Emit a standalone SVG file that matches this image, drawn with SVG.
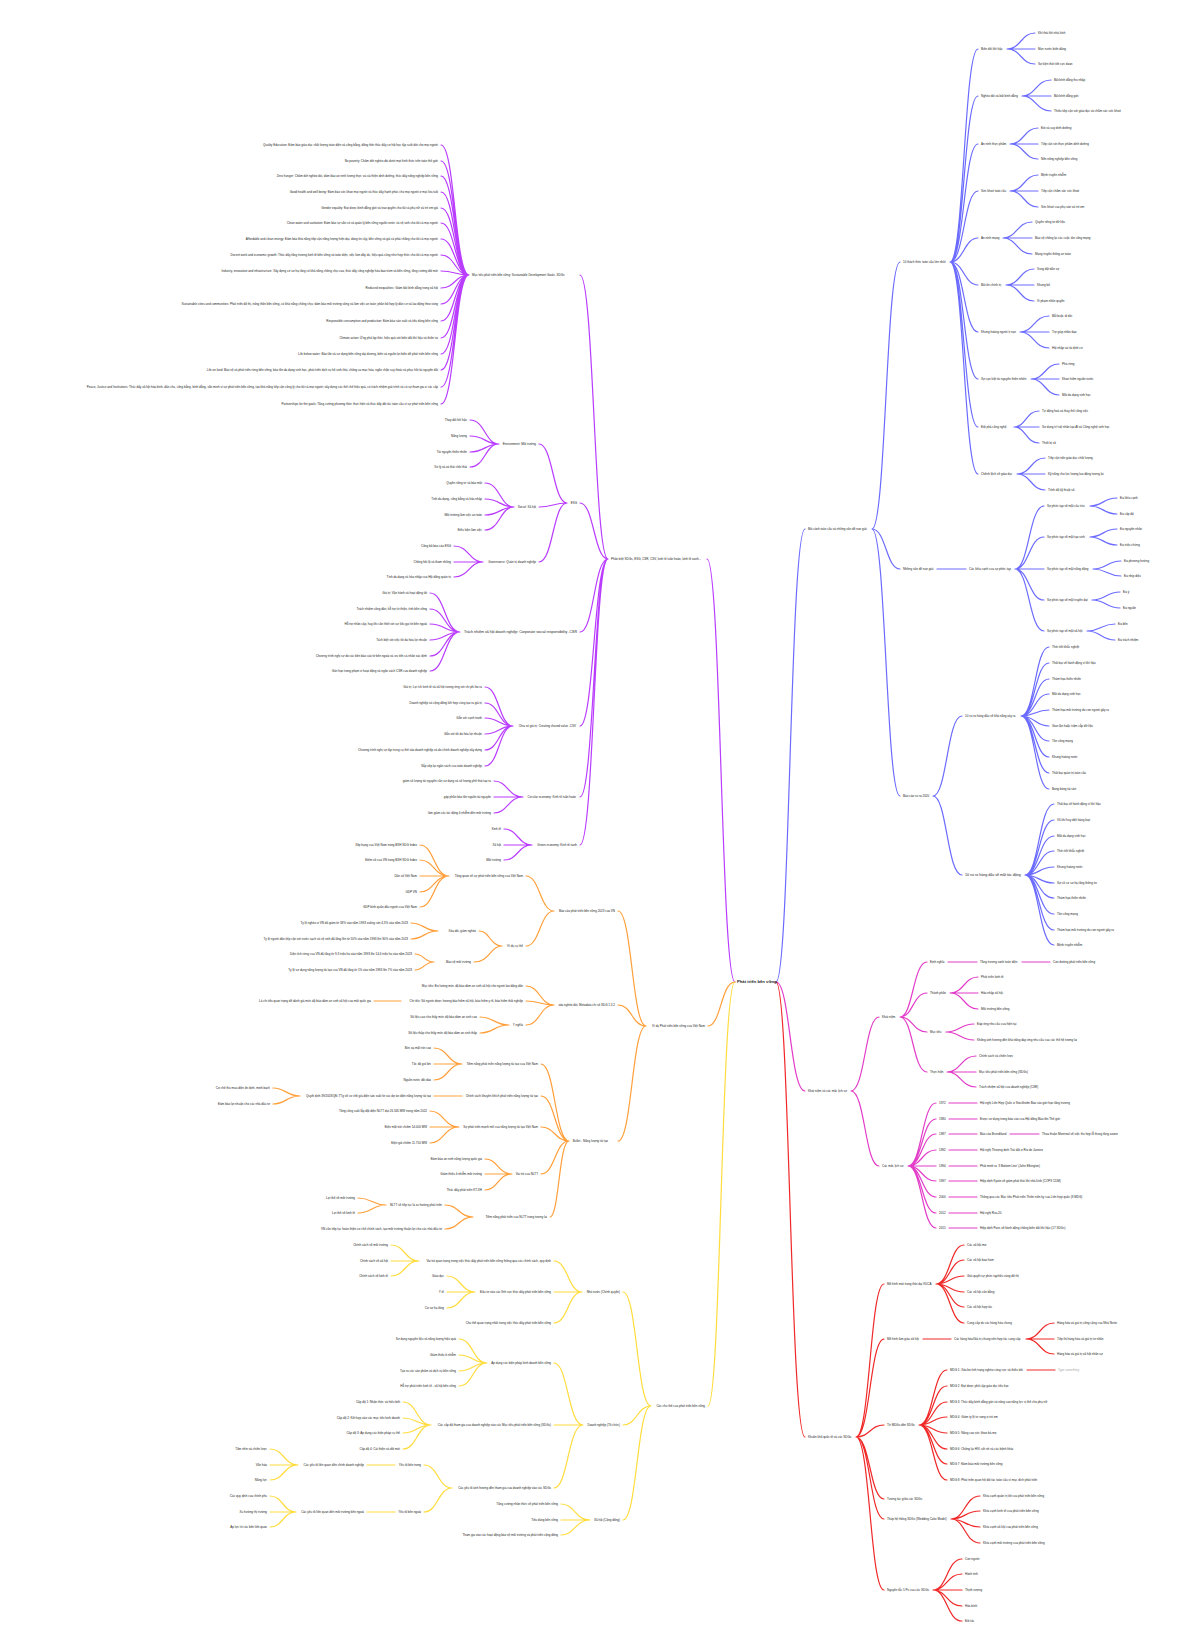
<svg xmlns="http://www.w3.org/2000/svg" width="1200" height="1629" viewBox="0 0 1200 1629">
<style>
text{font-family:"Liberation Sans",Arial,sans-serif;font-size:3px;fill:#222;dominant-baseline:middle}
.e{text-anchor:end}
.bd{font-weight:bold;font-size:4.2px}
.lg{font-size:3.6px}
.gr{fill:#aaa}
path{fill:none;stroke-width:1.2;stroke-linecap:round}
.b path{stroke:#6b6bff}.m path{stroke:#e23cc8}.r path{stroke:#f02828}.o path{stroke:#ff9f3a}.p path{stroke:#b93cff}.y path{stroke:#ffdc3c}
</style>
<rect width="1200" height="1629" fill="#fff"/>
<g id="connectors">
<g class="b">
<path d="M776 982C790 982 790 529 805 529M872 529C886 529 886 262 900 262M872 529C886 529 886 569 900 569M872 529C886 529 886 796 900 796"/>
<path d="M950 262C964 262 964 49 978 49M950 262C964 262 964 96 978 96M950 262C964 262 964 144 978 144M950 262C964 262 964 191 978 191M950 262C964 262 964 238 978 238M950 262C964 262 964 285 978 285M950 262C964 262 964 332 978 332M950 262C964 262 964 379 978 379M950 262C964 262 964 427 978 427M950 262C964 262 964 474 978 474"/>
<path d="M1007 49C1021 49 1021 33 1035 33M1007 49H1035M1007 49C1021 49 1021 64 1035 64"/>
<path d="M1022 96C1036 96 1036 80 1051 80M1022 96H1051M1022 96C1036 96 1036 111 1051 111"/>
<path d="M1010 144C1024 144 1024 128 1038 128M1010 144H1038M1010 144C1024 144 1024 159 1038 159"/>
<path d="M1010 191C1024 191 1024 175 1038 175M1010 191H1038M1010 191C1024 191 1024 207 1038 207"/>
<path d="M1003 238C1017 238 1017 222 1032 222M1003 238H1032M1003 238C1017 238 1017 254 1032 254"/>
<path d="M1006 285C1020 285 1020 269 1034 269M1006 285H1034M1006 285C1020 285 1020 301 1034 301"/>
<path d="M1020 332C1034 332 1034 316 1049 316M1020 332H1049M1020 332C1034 332 1034 348 1049 348"/>
<path d="M1031 379C1045 379 1045 364 1059 364M1031 379H1059M1031 379C1045 379 1045 395 1059 395"/>
<path d="M1014 427C1026 427 1026 411 1039 411M1014 427H1039M1014 427C1026 427 1026 443 1039 443"/>
<path d="M1017 474C1031 474 1031 458 1045 458M1017 474H1045M1017 474C1031 474 1031 490 1045 490"/>
<path d="M937 569H966M1015 569C1029 569 1029 506 1044 506M1015 569C1029 569 1029 537 1044 537M1015 569H1044M1015 569C1029 569 1029 600 1044 600M1015 569C1029 569 1029 631 1044 631"/>
<path d="M1090 506C1103 506 1103 498 1117 498M1090 506C1103 506 1103 514 1117 514M1090 537C1103 537 1103 529 1117 529M1090 537C1103 537 1103 545 1117 545M1093 569C1107 569 1107 561 1121 561M1093 569C1107 569 1107 576 1121 576M1092 600C1106 600 1106 592 1120 592M1092 600C1106 600 1106 608 1120 608M1087 631C1101 631 1101 624 1115 624M1087 631C1101 631 1101 640 1115 640"/>
<path d="M933 796C947 796 947 716 962 716M933 796C947 796 947 875 962 875"/>
<path d="M1021 716C1035 716 1035 647 1049 647M1021 716C1035 716 1035 663 1049 663M1021 716C1035 716 1035 679 1049 679M1021 716C1035 716 1035 694 1049 694M1021 716C1035 716 1035 710 1049 710M1021 716C1035 716 1035 726 1049 726M1021 716C1035 716 1035 741 1049 741M1021 716C1035 716 1035 757 1049 757M1021 716C1035 716 1035 773 1049 773M1021 716C1035 716 1035 789 1049 789"/>
<path d="M1025 875C1039 875 1039 804 1054 804M1025 875C1039 875 1039 820 1054 820M1025 875C1039 875 1039 836 1054 836M1025 875C1039 875 1039 851 1054 851M1025 875C1039 875 1039 867 1054 867M1025 875C1039 875 1039 883 1054 883M1025 875C1039 875 1039 898 1054 898M1025 875C1039 875 1039 914 1054 914M1025 875C1039 875 1039 930 1054 930M1025 875C1039 875 1039 945 1054 945"/>
</g>
<g class="m">
<path d="M776 982C790 982 790 1091 805 1091M851 1091C865 1091 865 1017 879 1017M851 1091C865 1091 865 1166 879 1166"/>
<path d="M900 1017C913 1017 913 962 927 962M900 1017C913 1017 913 993 927 993M900 1017C913 1017 913 1032 927 1032M900 1017C913 1017 913 1072 927 1072"/>
<path d="M948 962H977M1022 962H1050M950 993C964 993 964 977 978 977M950 993H978M950 993C964 993 964 1009 978 1009M946 1032C960 1032 960 1024 974 1024M946 1032C960 1032 960 1040 974 1040M947 1072C961 1072 961 1056 976 1056M947 1072H976M947 1072C961 1072 961 1087 976 1087"/>
<path d="M908 1166C922 1166 922 1103 936 1103M908 1166C922 1166 922 1119 936 1119M908 1166C922 1166 922 1134 936 1134M908 1166C922 1166 922 1150 936 1150M908 1166H936M908 1166C922 1166 922 1181 936 1181M908 1166C922 1166 922 1197 936 1197M908 1166C922 1166 922 1213 936 1213M908 1166C922 1166 922 1228 936 1228"/>
<path d="M949 1103H977M949 1119H977M949 1134H977M949 1150H977M949 1166H977M949 1181H977M949 1197H977M949 1213H977M949 1228H977M1010 1134H1039"/>
</g>
<g class="r">
<path d="M776 982C790 982 790 1437 805 1437"/>
<path d="M856 1437C870 1437 870 1284 884 1284M856 1437C870 1437 870 1339 884 1339M856 1437C870 1437 870 1425 884 1425M856 1437C870 1437 870 1499 884 1499M856 1437C870 1437 870 1519 884 1519M856 1437C870 1437 870 1590 884 1590"/>
<path d="M936 1284C950 1284 950 1245 964 1245M936 1284C950 1284 950 1260 964 1260M936 1284C950 1284 950 1276 964 1276M936 1284C950 1284 950 1292 964 1292M936 1284C950 1284 950 1307 964 1307M936 1284C950 1284 950 1323 964 1323"/>
<path d="M923 1339H951M1026 1339C1040 1339 1040 1323 1054 1323M1026 1339H1054M1026 1339C1040 1339 1040 1354 1054 1354"/>
<path d="M919 1425C933 1425 933 1370 947 1370M919 1425C933 1425 933 1386 947 1386M919 1425C933 1425 933 1402 947 1402M919 1425C933 1425 933 1417 947 1417M919 1425C933 1425 933 1433 947 1433M919 1425C933 1425 933 1449 947 1449M919 1425C933 1425 933 1464 947 1464M919 1425C933 1425 933 1480 947 1480M1027 1370H1055"/>
<path d="M951 1519C965 1519 965 1496 980 1496M951 1519C965 1519 965 1511 980 1511M951 1519C965 1519 965 1527 980 1527M951 1519C965 1519 965 1543 980 1543"/>
<path d="M933 1590C947 1590 947 1559 962 1559M933 1590C947 1590 947 1574 962 1574M933 1590H962M933 1590C947 1590 947 1606 962 1606M933 1590C947 1590 947 1621 962 1621"/>
</g>
<g class="p">
<path d="M735 982C721 982 721 559 707 559"/>
<path d="M608 559C594 559 594 275 580 275M608 559C594 559 594 503 580 503M608 559C594 559 594 632 580 632M608 559C594 559 594 726 580 726M608 559C594 559 594 797 580 797M608 559C594 559 594 845 580 845"/>
<path d="M469 275C455 275 455 145 441 145M469 275C455 275 455 161 441 161M469 275C455 275 455 176 441 176M469 275C455 275 455 192 441 192M469 275C455 275 455 208 441 208M469 275C455 275 455 223 441 223M469 275C455 275 455 239 441 239M469 275C455 275 455 255 441 255M469 275C455 275 455 271 441 271M469 275C455 275 455 288 441 288M469 275C455 275 455 304 441 304M469 275C455 275 455 321 441 321M469 275C455 275 455 338 441 338M469 275C455 275 455 354 441 354M469 275C455 275 455 370 441 370M469 275C455 275 455 387 441 387M469 275C455 275 455 404 441 404"/>
<path d="M567 503C553 503 553 444 539 444M567 503C553 503 553 507 539 507M567 503C553 503 553 562 539 562"/>
<path d="M499 444C485 444 485 420 470 420M499 444C485 444 485 436 470 436M499 444C485 444 485 452 470 452M499 444C485 444 485 467 470 467"/>
<path d="M514 507C500 507 500 483 485 483M514 507C500 507 500 499 485 499M514 507C500 507 500 515 485 515M514 507C500 507 500 530 485 530"/>
<path d="M483 562C469 562 469 546 454 546M483 562H454M483 562C469 562 469 577 454 577"/>
<path d="M460 632C445 632 445 593 430 593M460 632C445 632 445 609 430 609M460 632C445 632 445 624 430 624M460 632C445 632 445 640 430 640M460 632C445 632 445 656 430 656M460 632C445 632 445 671 430 671"/>
<path d="M513 726C499 726 499 687 485 687M513 726C499 726 499 703 485 703M513 726C499 726 499 718 485 718M513 726C499 726 499 734 485 734M513 726C499 726 499 750 485 750M513 726C499 726 499 766 485 766"/>
<path d="M523 797C508 797 508 781 494 781M523 797H494M523 797C508 797 508 813 494 813"/>
<path d="M532 845C518 845 518 829 504 829M532 845H504M532 845C518 845 518 860 504 860"/>
</g>
<g class="o">
<path d="M735 982C721 982 721 1026 708 1026"/>
<path d="M646 1026C632 1026 632 911 618 911M646 1026C632 1026 632 1005 618 1005M646 1026C632 1026 632 1141 618 1141"/>
<path d="M554 911C540 911 540 876 526 876M554 911C540 911 540 946 526 946"/>
<path d="M449 876C434 876 434 845 420 845M449 876C434 876 434 860 420 860M449 876H420M449 876C434 876 434 892 420 892M449 876C434 876 434 907 420 907"/>
<path d="M502 946C490 946 490 931 479 931M502 946C490 946 490 962 474 962"/>
<path d="M438 931C424 931 424 923 411 923M438 931C424 931 424 939 411 939M434 962C424 962 424 954 415 954M434 962C424 962 424 970 415 970"/>
<path d="M554 1005C540 1005 540 986 526 986M554 1005C540 1005 540 1001 526 1001M554 1005C540 1005 540 1025 526 1025M401 1001H374"/>
<path d="M509 1025C494 1025 494 1017 480 1017M509 1025C494 1025 494 1033 480 1033"/>
<path d="M569 1141C555 1141 555 1064 541 1064M569 1141C555 1141 555 1096 541 1096M569 1141C555 1141 555 1127 541 1127M569 1141C555 1141 555 1174 541 1174M569 1141C559 1141 559 1217 550 1217"/>
<path d="M462 1064C448 1064 448 1048 434 1048M462 1064H434M462 1064C448 1064 448 1080 434 1080"/>
<path d="M462 1096H434M300 1096C286 1096 286 1088 273 1088M300 1096C286 1096 286 1104 273 1104"/>
<path d="M459 1127C444 1127 444 1111 430 1111M459 1127H430M459 1127C444 1127 444 1143 430 1143"/>
<path d="M512 1174C498 1174 498 1159 485 1159M512 1174H485M512 1174C498 1174 498 1190 485 1190"/>
<path d="M473 1217C459 1217 459 1205 445 1205M473 1217C459 1217 459 1229 445 1229M386 1205C372 1205 372 1198 358 1198M386 1205C372 1205 372 1213 358 1213"/>
</g>
<g class="y">
<path d="M735 982C721 982 721 1406 708 1406"/>
<path d="M651 1406C637 1406 637 1292 623 1292M651 1406C637 1406 637 1425 623 1425M651 1406C637 1406 637 1520 623 1520"/>
<path d="M582 1292C568 1292 568 1261 554 1261M582 1292H554M582 1292C568 1292 568 1323 554 1323"/>
<path d="M419 1261C405 1261 405 1245 391 1245M419 1261H391M419 1261C405 1261 405 1276 391 1276"/>
<path d="M475 1292C461 1292 461 1276 447 1276M475 1292H447M475 1292C461 1292 461 1308 447 1308"/>
<path d="M583 1425C568 1425 568 1363 554 1363M583 1425H554M583 1425C568 1425 568 1488 554 1488"/>
<path d="M487 1363C473 1363 473 1339 459 1339M487 1363C473 1363 473 1355 459 1355M487 1363C473 1363 473 1371 459 1371M487 1363C473 1363 473 1386 459 1386"/>
<path d="M431 1425C417 1425 417 1402 403 1402M431 1425C417 1425 417 1418 403 1418M431 1425C417 1425 417 1433 403 1433M431 1425C417 1425 417 1449 403 1449"/>
<path d="M452 1488C438 1488 438 1465 424 1465M452 1488C438 1488 438 1512 424 1512M395 1465H367M395 1512H367"/>
<path d="M298 1465C284 1465 284 1449 270 1449M298 1465H270M298 1465C284 1465 284 1480 270 1480M296 1512C283 1512 283 1496 270 1496M296 1512H270M296 1512C283 1512 283 1527 270 1527"/>
<path d="M590 1520C575 1520 575 1504 561 1504M590 1520H561M590 1520C575 1520 575 1535 561 1535"/>
</g>
</g>
<g id="nodes">
<g id="root"><text class="bd" x="737" y="982">Phát triển bền vững</text></g>
<!-- blue -->
<g id="b0"><text x="808" y="529">Bối cảnh toàn cầu và những vấn đề nan giải</text></g>
<g id="b1"><text x="903" y="262">10 thách thức toàn cầu lớn nhất</text></g>
<g id="b1a"><text x="981" y="49">Biến đổi khí hậu</text></g>
<g id="b1a1"><text x="1038" y="33">Khí thải khí nhà kính</text></g>
<g id="b1a2"><text x="1038" y="49">Mực nước biển dâng</text></g>
<g id="b1a3"><text x="1038" y="64">Sự kiện thời tiết cực đoan</text></g>
<g id="b1b"><text x="981" y="96">Nghèo đói và bất bình đẳng</text></g>
<g id="b1b1"><text x="1054" y="80">Bất bình đẳng thu nhập</text></g>
<g id="b1b2"><text x="1054" y="96">Bất bình đẳng giới</text></g>
<g id="b1b3"><text x="1054" y="111">Thiếu tiếp cận với giáo dục và chăm sóc sức khoẻ</text></g>
<g id="b1c"><text x="981" y="144">An ninh thực phẩm</text></g>
<g id="b1c1"><text x="1041" y="128">Đói và suy dinh dưỡng</text></g>
<g id="b1c2"><text x="1041" y="144">Tiếp cận với thực phẩm dinh dưỡng</text></g>
<g id="b1c3"><text x="1041" y="159">Nền nông nghiệp bền vững</text></g>
<g id="b1d"><text x="981" y="191">Sức khoẻ toàn cầu</text></g>
<g id="b1d1"><text x="1041" y="175">Bệnh truyền nhiễm</text></g>
<g id="b1d2"><text x="1041" y="191">Tiếp cận chăm sóc sức khoẻ</text></g>
<g id="b1d3"><text x="1041" y="207">Sức khoẻ của phụ sản và trẻ em</text></g>
<g id="b1e"><text x="981" y="238">An ninh mạng</text></g>
<g id="b1e1"><text x="1035" y="222">Quyền riêng tư dữ liệu</text></g>
<g id="b1e2"><text x="1035" y="238">Bảo vệ chống lại các cuộc tấn công mạng</text></g>
<g id="b1e3"><text x="1035" y="254">Mạng truyền thông an toàn</text></g>
<g id="b1f"><text x="981" y="285">Bất ổn chính trị</text></g>
<g id="b1f1"><text x="1037" y="269">Xung đột dân sự</text></g>
<g id="b1f2"><text x="1037" y="285">Khủng bố</text></g>
<g id="b1f3"><text x="1037" y="301">Vi phạm nhân quyền</text></g>
<g id="b1g"><text x="981" y="332">Khủng hoảng người tị nạn</text></g>
<g id="b1g1"><text x="1052" y="316">Bắt buộc di dời</text></g>
<g id="b1g2"><text x="1052" y="332">Trợ giúp nhân đạo</text></g>
<g id="b1g3"><text x="1052" y="348">Hội nhập và tái định cư</text></g>
<g id="b1h"><text x="981" y="379">Sự cạn kiệt tài nguyên thiên nhiên</text></g>
<g id="b1h1"><text x="1062" y="364">Phá rừng</text></g>
<g id="b1h2"><text x="1062" y="379">Khan hiếm nguồn nước</text></g>
<g id="b1h3"><text x="1062" y="395">Mất đa dạng sinh học</text></g>
<g id="b1i"><text x="981" y="427">Đột phá công nghệ</text></g>
<g id="b1i1"><text x="1042" y="411">Tự động hoá và thay thế công việc</text></g>
<g id="b1i2"><text x="1042" y="427">Sử dụng trí tuệ nhân tạo AI và Công nghệ sinh học</text></g>
<g id="b1i3"><text x="1042" y="443">Thiết bị số</text></g>
<g id="b1j"><text x="981" y="474">Chênh lệch về giáo dục</text></g>
<g id="b1j1"><text x="1048" y="458">Tiếp cận nền giáo dục chất lượng</text></g>
<g id="b1j2"><text x="1048" y="474">Kỹ năng cho lực lượng lao động tương lai</text></g>
<g id="b1j3"><text x="1048" y="490">Trình độ kỹ thuật số</text></g>
<g id="b2"><text x="903" y="569">Những vấn đề nan giải</text></g>
<g id="b2a"><text x="969" y="569">Các khía cạnh của sự phức tạp</text></g>
<g id="b2a1"><text x="1047" y="506">Sự phức tạp về mặt cấu trúc</text></g>
<g id="b2a1a"><text x="1120" y="498">Đa khía cạnh</text></g>
<g id="b2a1b"><text x="1120" y="514">Đa cấp độ</text></g>
<g id="b2a2"><text x="1047" y="537">Sự phức tạp về mặt tạo sinh</text></g>
<g id="b2a2a"><text x="1120" y="529">Đa nguyên nhân</text></g>
<g id="b2a2b"><text x="1120" y="545">Đa triệu chứng</text></g>
<g id="b2a3"><text x="1047" y="569">Sự phức tạp về mặt năng động</text></g>
<g id="b2a3a"><text x="1124" y="561">Đa phương hướng</text></g>
<g id="b2a3b"><text x="1124" y="576">Đa nhịp điệu</text></g>
<g id="b2a4"><text x="1047" y="600">Sự phức tạp về mặt truyền đạt</text></g>
<g id="b2a4a"><text x="1123" y="592">Đa ý</text></g>
<g id="b2a4b"><text x="1123" y="608">Đa nguồn</text></g>
<g id="b2a5"><text x="1047" y="631">Sự phức tạp về mặt xã hội</text></g>
<g id="b2a5a"><text x="1118" y="624">Đa bên</text></g>
<g id="b2a5b"><text x="1118" y="640">Đa trách nhiệm</text></g>
<g id="b3"><text x="903" y="796">Báo cáo rủi ro 2020</text></g>
<g id="b3a"><text x="965" y="716">10 rủi ro hàng đầu về khả năng xảy ra</text></g>
<g id="b3a1"><text x="1052" y="647">Thời tiết khắc nghiệt</text></g>
<g id="b3a2"><text x="1052" y="663">Thất bại về hành động vì khí hậu</text></g>
<g id="b3a3"><text x="1052" y="679">Thảm họa thiên nhiên</text></g>
<g id="b3a4"><text x="1052" y="694">Mất đa dạng sinh học</text></g>
<g id="b3a5"><text x="1052" y="710">Thảm họa môi trường do con người gây ra</text></g>
<g id="b3a6"><text x="1052" y="726">Gian lận hoặc trộm cắp dữ liệu</text></g>
<g id="b3a7"><text x="1052" y="741">Tấn công mạng</text></g>
<g id="b3a8"><text x="1052" y="757">Khủng hoảng nước</text></g>
<g id="b3a9"><text x="1052" y="773">Thất bại quản trị toàn cầu</text></g>
<g id="b3a10"><text x="1052" y="789">Bong bóng tài sản</text></g>
<g id="b3b"><text class="lg" x="965" y="875">10 rủi ro hàng đầu về mặt tác động</text></g>
<g id="b3b1"><text x="1057" y="804">Thất bại về hành động vì khí hậu</text></g>
<g id="b3b2"><text x="1057" y="820">Vũ khí hủy diệt hàng loạt</text></g>
<g id="b3b3"><text x="1057" y="836">Mất đa dạng sinh học</text></g>
<g id="b3b4"><text x="1057" y="851">Thời tiết khắc nghiệt</text></g>
<g id="b3b5"><text x="1057" y="867">Khủng hoảng nước</text></g>
<g id="b3b6"><text x="1057" y="883">Sự cố cơ sở hạ tầng thông tin</text></g>
<g id="b3b7"><text x="1057" y="898">Thảm họa thiên nhiên</text></g>
<g id="b3b8"><text x="1057" y="914">Tấn công mạng</text></g>
<g id="b3b9"><text x="1057" y="930">Thảm họa môi trường do con người gây ra</text></g>
<g id="b3b10"><text x="1057" y="945">Bệnh truyền nhiễm</text></g>
<!-- magenta -->
<g id="m0"><text x="808" y="1091">Khái niệm và các mốc lịch sử</text></g>
<g id="m1"><text x="882" y="1017">Khái niệm</text></g>
<g id="m1a"><text x="930" y="962">Định nghĩa</text></g>
<g id="m1a1"><text x="980" y="962">Tăng trưởng xanh toàn diện</text></g>
<g id="m1a2"><text x="1053" y="962">Con đường phát triển bền vững</text></g>
<g id="m1b"><text x="930" y="993">Thành phần</text></g>
<g id="m1b1"><text x="981" y="977">Phát triển kinh tế</text></g>
<g id="m1b2"><text x="981" y="993">Hòa nhập xã hội</text></g>
<g id="m1b3"><text x="981" y="1009">Môi trường bền vững</text></g>
<g id="m1c"><text x="930" y="1032">Mục tiêu</text></g>
<g id="m1c1"><text x="977" y="1024">Đáp ứng nhu cầu của hiện tại</text></g>
<g id="m1c2"><text x="977" y="1040">Không ảnh hưởng đến khả năng đáp ứng nhu cầu của các thế hệ tương lai</text></g>
<g id="m1d"><text x="930" y="1072">Thực hiện</text></g>
<g id="m1d1"><text x="979" y="1056">Chính sách và chiến lược</text></g>
<g id="m1d2"><text x="979" y="1072">Mục tiêu phát triển bền vững (SDGs)</text></g>
<g id="m1d3"><text x="979" y="1087">Trách nhiệm xã hội của doanh nghiệp (CSR)</text></g>
<g id="m2"><text x="882" y="1166">Các mốc lịch sử</text></g>
<g id="m2a"><text x="939" y="1103">1972</text><text x="980" y="1103">Hội nghị Liên Hợp Quốc ở Stockholm Báo cáo giới hạn tăng trưởng</text></g>
<g id="m2b"><text x="939" y="1119">1980</text><text x="980" y="1119">Được sử dụng trong báo cáo của Hội đồng Bảo tồn Thế giới</text></g>
<g id="m2c"><text x="939" y="1134">1987</text><text x="980" y="1134">Báo cáo Brundtland</text></g>
<g id="m2c1"><text x="1042" y="1134">Thỏa thuận Montreal về việc thu hẹp lỗ thủng tầng ozone</text></g>
<g id="m2d"><text x="939" y="1150">1992</text><text x="980" y="1150">Hội nghị Thượng đỉnh Trái đất ở Rio de Janeiro</text></g>
<g id="m2e"><text x="939" y="1166">1994</text><text x="980" y="1166">Phát minh ra '3 Bottom Line' (John Elkington)</text></g>
<g id="m2f"><text x="939" y="1181">1997</text><text x="980" y="1181">Hiệp định Kyoto về giảm phát thải khí nhà kính (COP3 CDM)</text></g>
<g id="m2g"><text x="939" y="1197">2000</text><text x="980" y="1197">Thông qua các Mục tiêu Phát triển Thiên niên kỷ của Liên hợp quốc (8 MDG)</text></g>
<g id="m2h"><text x="939" y="1213">2012</text><text x="980" y="1213">Hội nghị Rio+20</text></g>
<g id="m2i"><text x="939" y="1228">2015</text><text x="980" y="1228">Hiệp định Paris về hành động chống biến đổi khí hậu (17 SDGs)</text></g>
<!-- red -->
<g id="r0"><text x="808" y="1437">Khuôn khổ quốc tế và các SDGs</text></g>
<g id="r1"><text x="887" y="1284">Mô hình mới trong thời đại VUCA</text></g>
<g id="r1a"><text x="967" y="1245">Các xã hội mở</text></g>
<g id="r1b"><text x="967" y="1260">Các xã hội bao hàm</text></g>
<g id="r1c"><text x="967" y="1276">Giải quyết sự phức tạp/tiểu vùng đô thị</text></g>
<g id="r1d"><text x="967" y="1292">Các xã hội cân bằng</text></g>
<g id="r1e"><text x="967" y="1307">Các xã hội hợp tác</text></g>
<g id="r1f"><text x="967" y="1323">Cung cấp đủ các hàng hóa chung</text></g>
<g id="r2"><text x="887" y="1339">Mô hình làm giàu xã hội</text></g>
<g id="r2a"><text x="954" y="1339">Các hàng hóa/Giá trị chung nên hợp tác cung cấp</text></g>
<g id="r2a1"><text x="1057" y="1323">Hàng hóa và giá trị công cộng của Nhà Nước</text></g>
<g id="r2a2"><text x="1057" y="1339">Tiếp thị hàng hóa và giá trị tư nhân</text></g>
<g id="r2a3"><text x="1057" y="1354">Hàng hóa và giá trị xã hội nhân sự</text></g>
<g id="r3"><text x="887" y="1425">Từ MDGs đến SDGs</text></g>
<g id="r3a"><text x="950" y="1370">MDG 1: Xóa bỏ tình trạng nghèo cùng cực và thiếu đói</text></g>
<g id="r3a1"><text class="gr" x="1058" y="1370">Type something</text></g>
<g id="r3b"><text x="950" y="1386">MDG 2: Đạt được phổ cập giáo dục tiểu học</text></g>
<g id="r3c"><text x="950" y="1402">MDG 3: Thúc đẩy bình đẳng giới và nâng cao năng lực vị thế cho phụ nữ</text></g>
<g id="r3d"><text x="950" y="1417">MDG 4: Giảm tỷ lệ tử vong ở trẻ em</text></g>
<g id="r3e"><text x="950" y="1433">MDG 5: Nâng cao sức khỏe bà mẹ</text></g>
<g id="r3f"><text x="950" y="1449">MDG 6: Chống lại HIV, sốt rét và các bệnh khác</text></g>
<g id="r3g"><text x="950" y="1464">MDG 7: Đảm bảo môi trường bền vững</text></g>
<g id="r3h"><text x="950" y="1480">MDG 8: Phát triển quan hệ đối tác toàn cầu vì mục đích phát triển</text></g>
<g id="r4"><text x="887" y="1499">Tương tác giữa các SDGs</text></g>
<g id="r5"><text x="887" y="1519">Tháp hệ thống SDGs (Wedding Cake Model)</text></g>
<g id="r5a"><text x="983" y="1496">Khía cạnh quản trị tốt của phát triển bền vững</text></g>
<g id="r5b"><text x="983" y="1511">Khía cạnh kinh tế của phát triển bền vững</text></g>
<g id="r5c"><text x="983" y="1527">Khía cạnh xã hội của phát triển bền vững</text></g>
<g id="r5d"><text x="983" y="1543">Khía cạnh môi trường của phát triển bền vững</text></g>
<g id="r6"><text x="887" y="1590">Nguyên tắc 5 Ps của các SDGs</text></g>
<g id="r6a"><text x="965" y="1559">Con người</text></g>
<g id="r6b"><text x="965" y="1574">Hành tinh</text></g>
<g id="r6c"><text x="965" y="1590">Thịnh vượng</text></g>
<g id="r6d"><text x="965" y="1606">Hòa bình</text></g>
<g id="r6e"><text x="965" y="1621">Đối tác</text></g>
<!-- purple -->
<g id="p0"><text x="611" y="559">Phân biệt SDGs, ESG, CSR, CSV, kinh tế tuần hoàn, kinh tế xanh...</text></g>
<g id="p1"><text x="472" y="275">Mục tiêu phát triển bền vững: Sustainable Development Goals -SDGs</text></g>
<g id="p1s1"><text class="e" x="438" y="145">Quality Education: Đảm bảo giáo dục chất lượng toàn diện và công bằng, đồng thời thúc đẩy cơ hội học tập suốt đời cho mọi người</text></g>
<g id="p1s2"><text class="e" x="438" y="161">No poverty: Chấm dứt nghèo đói dưới mọi hình thức trên toàn thế giới</text></g>
<g id="p1s3"><text class="e" x="438" y="176">Zero hunger: Chấm dứt nghèo đói, đảm bảo an ninh lương thực và cải thiện dinh dưỡng, thúc đẩy nông nghiệp bền vững</text></g>
<g id="p1s4"><text class="e" x="438" y="192">Good health and well being: Đảm bảo sức khỏe mọi người và thúc đẩy hạnh phúc cho mọi người ở mọi lứa tuổi</text></g>
<g id="p1s5"><text class="e" x="438" y="208">Gender equality: Đạt được bình đẳng giới và trao quyền cho tất cả phụ nữ và trẻ em gái</text></g>
<g id="p1s6"><text class="e" x="438" y="223">Clean water and sanitation: Đảm bảo sự sẵn có và quản lý bền vững nguồn nước và vệ sinh cho tất cả mọi người</text></g>
<g id="p1s7"><text class="e" x="438" y="239">Affordable and clean energy: Đảm bảo khả năng tiếp cận năng lượng hiện đại, đáng tin cậy, bền vững và giá cả phải chăng cho tất cả mọi người</text></g>
<g id="p1s8"><text class="e" x="438" y="255">Decent work and economic growth: Thúc đẩy tăng trưởng kinh tế bền vững và toàn diện, việc làm đầy đủ, hiệu quả cũng như hợp thức cho tất cả mọi người</text></g>
<g id="p1s9"><text class="e" x="438" y="271">Industry, innovation and infrastructure: Xây dựng cơ sở hạ tầng có khả năng chống chịu cao, thúc đẩy công nghiệp hóa bao trùm và bền vững, tăng cường đổi mới</text></g>
<g id="p1s10"><text class="e" x="438" y="288">Reduced inequalities: Giảm bất bình đẳng trong xã hội</text></g>
<g id="p1s11"><text class="e" x="438" y="304">Sustainable cities and communities: Phát triển đô thị, nông thôn bền vững, có khả năng chống chịu; đảm bảo môi trường sống và làm việc an toàn; phân bổ hợp lý dân cư và lao động theo vùng</text></g>
<g id="p1s12"><text class="e" x="438" y="321">Responsible consumption and production: Đảm bảo sản xuất và tiêu dùng bền vững</text></g>
<g id="p1s13"><text class="e" x="438" y="338">Climate action: Ứng phó kịp thời, hiệu quả với biến đổi khí hậu và thiên tai</text></g>
<g id="p1s14"><text class="e" x="438" y="354">Life below water: Bảo tồn và sử dụng bền vững đại dương, biển và nguồn lợi biển để phát triển bền vững</text></g>
<g id="p1s15"><text class="e" x="438" y="370">Life on land: Bảo vệ và phát triển rừng bền vững, bảo tồn đa dạng sinh học, phát triển dịch vụ hệ sinh thái, chống sa mạc hóa, ngăn chặn suy thoái và phục hồi tài nguyên đất</text></g>
<g id="p1s16"><text class="e" x="438" y="387">Peace, Justice and Institutions: Thúc đẩy xã hội hòa bình, dân chủ, công bằng, bình đẳng, văn minh vì sự phát triển bền vững, tạo khả năng tiếp cận công lý cho tất cả mọi người; xây dựng các thể chế hiệu quả, có trách nhiệm giải trình và có sự tham gia ở các cấp</text></g>
<g id="p1s17"><text class="e" x="438" y="404">Partnerships for the goals: Tăng cường phương thức thực hiện và thúc đẩy đối tác toàn cầu vì sự phát triển bền vững</text></g>
<g id="p2"><text class="e" x="577" y="503">ESG</text></g>
<g id="p2a"><text class="e" x="536" y="444">Environment: Môi trường</text></g>
<g id="p2a1"><text class="e" x="467" y="420">Thay đổi khí hậu</text></g>
<g id="p2a2"><text class="e" x="467" y="436">Năng lượng</text></g>
<g id="p2a3"><text class="e" x="467" y="452">Tài nguyên thiên nhiên</text></g>
<g id="p2a4"><text class="e" x="467" y="467">Xử lý và xả thải chất thải</text></g>
<g id="p2b"><text class="e" x="536" y="507">Social: Xã hội</text></g>
<g id="p2b1"><text class="e" x="482" y="483">Quyền riêng tư và bảo mật</text></g>
<g id="p2b2"><text class="e" x="482" y="499">Tính đa dạng, công bằng và hòa nhập</text></g>
<g id="p2b3"><text class="e" x="482" y="515">Môi trường làm việc an toàn</text></g>
<g id="p2b4"><text class="e" x="482" y="530">Điều kiện làm việc</text></g>
<g id="p2c"><text class="e" x="536" y="562">Governance: Quản trị doanh nghiệp</text></g>
<g id="p2c1"><text class="e" x="451" y="546">Công bố báo cáo ESG</text></g>
<g id="p2c2"><text class="e" x="451" y="562">Chống hối lộ và tham nhũng</text></g>
<g id="p2c3"><text class="e" x="451" y="577">Tính đa dạng và hòa nhập của Hội đồng quản trị</text></g>
<g id="p3"><text class="e lg" x="577" y="632">Trách nhiệm xã hội doanh nghiệp: Corporate social responsibility -CSR</text></g>
<g id="p3a"><text class="e" x="427" y="593">Giá trị: Vận hành và hoạt động tốt</text></g>
<g id="p3b"><text class="e" x="427" y="609">Trách nhiệm công dân, hỗ trợ từ thiện, tính bền vững</text></g>
<g id="p3c"><text class="e" x="427" y="624">Hỗ trợ nhân cấp, hay khi cần thiết với sự kêu gọi từ bên ngoài</text></g>
<g id="p3d"><text class="e" x="427" y="640">Tách biệt với việc tối đa hóa lợi nhuận</text></g>
<g id="p3e"><text class="e" x="427" y="656">Chương trình nghị sự do các bên báo cáo từ bên ngoài và ưu tiên cá nhân xác định</text></g>
<g id="p3f"><text class="e" x="427" y="671">Giới hạn trong phạm vi hoạt động và ngân sách CSR của doanh nghiệp</text></g>
<g id="p4"><text class="e" x="576" y="726">Chia sẻ giá trị: Creating shared value -CSV</text></g>
<g id="p4a"><text class="e" x="482" y="687">Giá trị: Lợi ích kinh tế và xã hội tương ứng với chi phí bỏ ra</text></g>
<g id="p4b"><text class="e" x="482" y="703">Doanh nghiệp và cộng đồng kết hợp cùng tạo ra giá trị</text></g>
<g id="p4c"><text class="e" x="482" y="718">Gắn với cạnh tranh</text></g>
<g id="p4d"><text class="e" x="482" y="734">Gắn với tối đa hóa lợi nhuận</text></g>
<g id="p4e"><text class="e" x="482" y="750">Chương trình nghị sự tập trung cụ thể vào doanh nghiệp và do chính doanh nghiệp xây dựng</text></g>
<g id="p4f"><text class="e" x="482" y="766">Sắp xếp lại ngân sách của toàn doanh nghiệp</text></g>
<g id="p5"><text class="e" x="576" y="797">Circular economy: Kinh tế tuần hoàn</text></g>
<g id="p5a"><text class="e" x="491" y="781">giảm số lượng tài nguyên cần sử dụng và số lượng phế thải tạo ra</text></g>
<g id="p5b"><text class="e" x="491" y="797">góp phần bảo tồn nguồn tài nguyên</text></g>
<g id="p5c"><text class="e" x="491" y="813">làm giảm các tác động ô nhiễm đến môi trường</text></g>
<g id="p6"><text class="e" x="577" y="845">Green economy: Kinh tế xanh</text></g>
<g id="p6a"><text class="e" x="501" y="829">Kinh tế</text></g>
<g id="p6b"><text class="e" x="501" y="845">Xã hội</text></g>
<g id="p6c"><text class="e" x="501" y="860">Môi trường</text></g>
<!-- orange -->
<g id="o0"><text class="e" x="705" y="1026">Ví dụ Phát triển bền vững của Việt Nam</text></g>
<g id="o1"><text class="e" x="615" y="911">Báo cáo phát triển bền vững 2023 của VN</text></g>
<g id="o1a"><text class="e" x="523" y="876">Tổng quan về sự phát triển bền vững của Việt Nam</text></g>
<g id="o1a1"><text class="e" x="417" y="845">Xếp hạng của Việt Nam trong BXH SDG Index</text></g>
<g id="o1a2"><text class="e" x="417" y="860">Điểm số của VN trong BXH SDG Index</text></g>
<g id="o1a3"><text class="e" x="417" y="876">Dân số Việt Nam</text></g>
<g id="o1a4"><text class="e" x="417" y="892">GDP VN</text></g>
<g id="o1a5"><text class="e" x="417" y="907">GDP bình quân đầu người của Việt Nam</text></g>
<g id="o1b"><text class="e" x="523" y="946">Ví dụ cụ thể</text></g>
<g id="o1b1"><text class="e" x="476" y="931">Xóa đói, giảm nghèo</text></g>
<g id="o1b1a"><text class="e" x="408" y="923">Tỷ lệ nghèo ở VN đã giảm từ 58% vào năm 1993 xuống còn 4,3% vào năm 2023</text></g>
<g id="o1b1b"><text class="e" x="408" y="939">Tỷ lệ người dân tiếp cận với nước sạch và vệ sinh đã tăng lên từ 50% vào năm 1993 lên 90% vào năm 2023</text></g>
<g id="o1b2"><text class="e" x="471" y="962">Bảo vệ môi trường</text></g>
<g id="o1b2a"><text class="e" x="412" y="954">Diện tích rừng của VN đã tăng từ 9,3 triệu ha vào năm 1993 lên 14,6 triệu ha vào năm 2023</text></g>
<g id="o1b2b"><text class="e" x="412" y="970">Tỷ lệ sử dụng năng lượng tái tạo của VN đã tăng từ 1% vào năm 1993 lên 7% vào năm 2023</text></g>
<g id="o2"><text class="e" x="615" y="1005">xóa nghèo đói, Metadata chỉ số SDG 1.3.2</text></g>
<g id="o2a"><text class="e" x="523" y="986">Mục tiêu: Đo lường mức độ bảo đảm an sinh xã hội cho người lao động dân</text></g>
<g id="o2b"><text class="e" x="523" y="1001">Chỉ tiêu: Số người được hưởng bảo hiểm xã hội, bảo hiểm y tế, bảo hiểm thất nghiệp</text></g>
<g id="o2b1"><text class="e" x="371" y="1001">Là chỉ tiêu quan trọng để đánh giá mức độ bảo đảm an sinh xã hội của một quốc gia</text></g>
<g id="o2c"><text class="e" x="523" y="1025">Ý nghĩa</text></g>
<g id="o2c1"><text class="e" x="477" y="1017">Số liệu cao cho thấy mức độ bảo đảm an sinh cao</text></g>
<g id="o2c2"><text class="e" x="477" y="1033">Số liệu thấp cho thấy mức độ bảo đảm an sinh thấp</text></g>
<g id="o3"><text class="e" x="608" y="1141">Bullet - Năng lượng tái tạo</text></g>
<g id="o3a"><text class="e" x="538" y="1064">Tiềm năng phát triển năng lượng tái tạo của Việt Nam</text></g>
<g id="o3a1"><text class="e" x="431" y="1048">Bức xạ mặt trời cao</text></g>
<g id="o3a2"><text class="e" x="431" y="1064">Tốc độ gió lớn</text></g>
<g id="o3a3"><text class="e" x="431" y="1080">Nguồn nước dồi dào</text></g>
<g id="o3b"><text class="e" x="538" y="1096">Chính sách khuyến khích phát triển năng lượng tái tạo</text></g>
<g id="o3b1"><text class="e" x="431" y="1096">Quyết định 39/2018/QĐ-TTg về cơ chế giá điện sản xuất từ các dự án điện năng lượng tái tạo</text></g>
<g id="o3b1a"><text class="e" x="270" y="1088">Cơ chế thu mua điện ổn định, minh bạch</text></g>
<g id="o3b1b"><text class="e" x="270" y="1104">Đảm bảo lợi nhuận cho các nhà đầu tư</text></g>
<g id="o3c"><text class="e" x="538" y="1127">Sự phát triển mạnh mẽ của năng lượng tái tạo Việt Nam</text></g>
<g id="o3c1"><text class="e" x="427" y="1111">Tổng công suất lắp đặt điện NLTT đạt 26.345 MW trong năm 2022</text></g>
<g id="o3c2"><text class="e" x="427" y="1127">Điện mặt trời chiếm 14.000 MW</text></g>
<g id="o3c3"><text class="e" x="427" y="1143">Điện gió chiếm 11.750 MW</text></g>
<g id="o3d"><text class="e" x="538" y="1174">Vai trò của NLTT</text></g>
<g id="o3d1"><text class="e" x="482" y="1159">Đảm bảo an ninh năng lượng quốc gia</text></g>
<g id="o3d2"><text class="e" x="482" y="1174">Giảm thiểu ô nhiễm môi trường</text></g>
<g id="o3d3"><text class="e" x="482" y="1190">Thúc đẩy phát triển KT-XH</text></g>
<g id="o3e"><text class="e" x="547" y="1217">Tiềm năng phát triển của NLTT trong tương lai</text></g>
<g id="o3e1"><text class="e" x="442" y="1205">NLTT sẽ tiếp tục là xu hướng phát triển</text></g>
<g id="o3e1a"><text class="e" x="355" y="1198">Lợi thế về môi trường</text></g>
<g id="o3e1b"><text class="e" x="355" y="1213">Lợi thế về kinh tế</text></g>
<g id="o3e2"><text class="e" x="442" y="1229">VN cần tiếp tục hoàn thiện cơ chế chính sách, tạo môi trường thuận lợi cho các nhà đầu tư</text></g>
<!-- yellow -->
<g id="y0"><text class="e" x="705" y="1406">Các chủ thể của phát triển bền vững</text></g>
<g id="y1"><text class="e" x="620" y="1292">Nhà nước (Chính quyền)</text></g>
<g id="y1a"><text class="e" x="551" y="1261">Vai trò quan trọng trong việc thúc đẩy phát triển bền vững thông qua các chính sách, quy định</text></g>
<g id="y1a1"><text class="e" x="388" y="1245">Chính sách về môi trường</text></g>
<g id="y1a2"><text class="e" x="388" y="1261">Chính sách về xã hội</text></g>
<g id="y1a3"><text class="e" x="388" y="1276">Chính sách về kinh tế</text></g>
<g id="y1b"><text class="e" x="551" y="1292">Đầu tư vào các lĩnh vực thúc đẩy phát triển bền vững</text></g>
<g id="y1b1"><text class="e" x="444" y="1276">Giáo dục</text></g>
<g id="y1b2"><text class="e" x="444" y="1292">Y tế</text></g>
<g id="y1b3"><text class="e" x="444" y="1308">Cơ sở hạ tầng</text></g>
<g id="y1c"><text class="e" x="551" y="1323">Chủ thể quan trọng nhất trong việc thúc đẩy phát triển bền vững</text></g>
<g id="y2"><text class="e" x="620" y="1425">Doanh nghiệp (Tổ chức)</text></g>
<g id="y2a"><text class="e" x="551" y="1363">Áp dụng các biện pháp kinh doanh bền vững</text></g>
<g id="y2a1"><text class="e" x="456" y="1339">Sử dụng nguyên liệu và năng lượng hiệu quả</text></g>
<g id="y2a2"><text class="e" x="456" y="1355">Giảm thiểu ô nhiễm</text></g>
<g id="y2a3"><text class="e" x="456" y="1371">Tạo ra các sản phẩm và dịch vụ bền vững</text></g>
<g id="y2a4"><text class="e" x="456" y="1386">Hỗ trợ phát triển kinh tế - xã hội bền vững</text></g>
<g id="y2b"><text class="e" x="551" y="1425">Các cấp độ tham gia của doanh nghiệp vào các Mục tiêu phát triển bền vững (SDGs)</text></g>
<g id="y2b1"><text class="e" x="400" y="1402">Cấp độ 1: Nhận thức và hiểu biết</text></g>
<g id="y2b2"><text class="e" x="400" y="1418">Cấp độ 2: Kết hợp vào các mục tiêu kinh doanh</text></g>
<g id="y2b3"><text class="e" x="400" y="1433">Cấp độ 3: Áp dụng các biện pháp cụ thể</text></g>
<g id="y2b4"><text class="e" x="400" y="1449">Cấp độ 4: Cải thiện và đổi mới</text></g>
<g id="y2c"><text class="e" x="551" y="1488">Các yếu tố ảnh hưởng đến tham gia của doanh nghiệp vào các SDGs</text></g>
<g id="y2c1"><text class="e" x="421" y="1465">Yếu tố bên trong</text></g>
<g id="y2c1a"><text class="e" x="364" y="1465">Các yếu tố liên quan đến chính doanh nghiệp</text></g>
<g id="y2c1a1"><text class="e" x="267" y="1449">Tầm nhìn và chiến lược</text></g>
<g id="y2c1a2"><text class="e" x="267" y="1465">Văn hóa</text></g>
<g id="y2c1a3"><text class="e" x="267" y="1480">Năng lực</text></g>
<g id="y2c2"><text class="e" x="421" y="1512">Yếu tố bên ngoài</text></g>
<g id="y2c2a"><text class="e" x="364" y="1512">Các yếu tố liên quan đến môi trường bên ngoài</text></g>
<g id="y2c2a1"><text class="e" x="267" y="1496">Các quy định của chính phủ</text></g>
<g id="y2c2a2"><text class="e" x="267" y="1512">Xu hướng thị trường</text></g>
<g id="y2c2a3"><text class="e" x="267" y="1527">Áp lực từ các bên liên quan</text></g>
<g id="y3"><text class="e" x="620" y="1520">Xã hội (Cộng đồng)</text></g>
<g id="y3a"><text class="e" x="558" y="1504">Tăng cường nhận thức về phát triển bền vững</text></g>
<g id="y3b"><text class="e" x="558" y="1520">Tiêu dùng bền vững</text></g>
<g id="y3c"><text class="e" x="558" y="1535">Tham gia vào các hoạt động bảo vệ môi trường và phát triển cộng đồng</text></g>
</g>
</svg>
